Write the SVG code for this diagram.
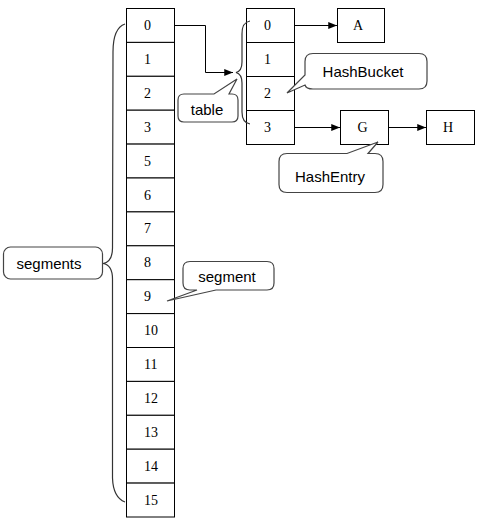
<svg xmlns="http://www.w3.org/2000/svg" width="478" height="523" viewBox="0 0 478 523">
<style>
.cell{fill:#fff;stroke:#000;stroke-width:1}
.num{font-family:"Liberation Serif",serif;font-size:14px;fill:#000}
.lbl{font-family:"Liberation Sans",Arial,sans-serif;font-size:15px;fill:#000;text-anchor:middle}
.callout{fill:#fff;stroke:#444;stroke-width:1.2}
.brace{fill:none;stroke:#333;stroke-width:1.2}
.conn{fill:none;stroke:#000;stroke-width:1}
</style>
<defs>
<marker id="arr" markerUnits="userSpaceOnUse" viewBox="0 0 10 8" markerWidth="9" markerHeight="7" refX="10" refY="4" orient="auto">
<path d="M0,0 L10,4 L0,8 Z" fill="#000"/>
</marker>
</defs>
<rect width="478" height="523" fill="#fff"/>

<g id="segments-array">
<rect class="cell" x="126.5" y="8.5" width="48" height="33.9"/>
<rect class="cell" x="126.5" y="42.4" width="48" height="33.9"/>
<rect class="cell" x="126.5" y="76.3" width="48" height="33.9"/>
<rect class="cell" x="126.5" y="110.2" width="48" height="33.9"/>
<rect class="cell" x="126.5" y="144.1" width="48" height="33.9"/>
<rect class="cell" x="126.5" y="178" width="48" height="33.9"/>
<rect class="cell" x="126.5" y="211.9" width="48" height="33.9"/>
<rect class="cell" x="126.5" y="245.8" width="48" height="33.9"/>
<rect class="cell" x="126.5" y="279.7" width="48" height="33.9"/>
<rect class="cell" x="126.5" y="313.6" width="48" height="33.9"/>
<rect class="cell" x="126.5" y="347.5" width="48" height="33.9"/>
<rect class="cell" x="126.5" y="381.4" width="48" height="33.9"/>
<rect class="cell" x="126.5" y="415.3" width="48" height="33.9"/>
<rect class="cell" x="126.5" y="449.2" width="48" height="33.9"/>
<rect class="cell" x="126.5" y="483.1" width="48" height="33.9"/>
<text class="num" x="144" y="30">0</text>
<text class="num" x="144" y="63.9">1</text>
<text class="num" x="144" y="97.8">2</text>
<text class="num" x="144" y="131.7">3</text>
<text class="num" x="144" y="165.6">5</text>
<text class="num" x="144" y="199.5">6</text>
<text class="num" x="144" y="233.4">7</text>
<text class="num" x="144" y="267.3">8</text>
<text class="num" x="144" y="301.2">9</text>
<text class="num" x="144" y="335.1">10</text>
<text class="num" x="144" y="369">11</text>
<text class="num" x="144" y="402.9">12</text>
<text class="num" x="144" y="436.8">13</text>
<text class="num" x="144" y="470.7">14</text>
<text class="num" x="144" y="504.6">15</text>
</g>

<g id="table-array">
<rect class="cell" x="246.5" y="8.5" width="48" height="34"/>
<rect class="cell" x="246.5" y="42.5" width="48" height="34"/>
<rect class="cell" x="246.5" y="76.5" width="48" height="34"/>
<rect class="cell" x="246.5" y="110.5" width="48" height="34"/>
<text class="num" x="264" y="30">0</text>
<text class="num" x="264" y="64">1</text>
<text class="num" x="264" y="98">2</text>
<text class="num" x="264" y="132">3</text>
</g>

<g id="node-A">
<rect class="cell" x="337.5" y="8.5" width="47" height="34"/>
<text class="num" x="358" y="30" text-anchor="middle">A</text>
</g>
<g id="node-G">
<rect class="cell" x="340.5" y="110.5" width="48" height="34"/>
<text class="num" x="362.5" y="132" text-anchor="middle">G</text>
</g>
<g id="node-H">
<rect class="cell" x="426.5" y="110.5" width="48" height="34"/>
<text class="num" x="448" y="132" text-anchor="middle">H</text>
</g>

<g id="connectors">
<path class="conn" d="M174.5,25.5 H205.5 V72.5 H233" marker-end="url(#arr)"/>
<path class="conn" d="M294.5,25.5 H337" marker-end="url(#arr)"/>
<path class="conn" d="M294.5,127.5 H340" marker-end="url(#arr)"/>
<path class="conn" d="M388.5,127.5 H426" marker-end="url(#arr)"/>
<path class="brace" d="M125,24 C116,27 113,38 113,52 L112.5,248 Q112.5,262 103,263.5 Q112.5,265 112.5,279 L112.5,478 C113,492 117,499 125,502"/>
<path class="brace" d="M250,21 C244,22 242,26 242,34 L242,62 Q242,71 236,72.5 Q242,74 242,83 L242,112 C242,119 244,123 250,124"/>
</g>

<g id="callout-table">
<path class="callout" d="M184,94 L214,94 L237,79 L229,94 L232,94 Q238,94 238,100 L238,116 Q238,122 232,122 L184,122 Q178,122 178,116 L178,100 Q178,94 184,94 Z"/>
<text class="lbl" x="207" y="115">table</text>
</g>
<g id="callout-hashbucket">
<path class="callout" d="M313,53.5 L419,53.5 Q427,53.5 427,61.5 L427,81 Q427,89 419,89 L313,89 Q306,89 305,85 L287,93 L305,75 L305,61.5 Q305,53.5 313,53.5 Z"/>
<text class="lbl" x="363" y="77">HashBucket</text>
</g>
<g id="callout-hashentry">
<path class="callout" d="M287,153.5 L347,153.5 L378,142 L368,153.5 L375,153.5 Q383,153.5 383,161.5 L383,184.5 Q383,192.5 375,192.5 L287,192.5 Q279,192.5 279,184.5 L279,161.5 Q279,153.5 287,153.5 Z"/>
<text class="lbl" x="330" y="182">HashEntry</text>
</g>
<g id="callout-segments">
<rect class="callout" x="3.5" y="247" width="99" height="32" rx="7"/>
<text class="lbl" x="49" y="268.5">segments</text>
</g>
<g id="callout-segment">
<path class="callout" d="M190,261.5 L267,261.5 Q274,261.5 274,268.5 L274,283 Q274,290 267,290 L216,290 L167,301 L197,290 L190,290 Q183,290 183,283 L183,268.5 Q183,261.5 190,261.5 Z"/>
<text class="lbl" x="227" y="282">segment</text>
</g>
</svg>
